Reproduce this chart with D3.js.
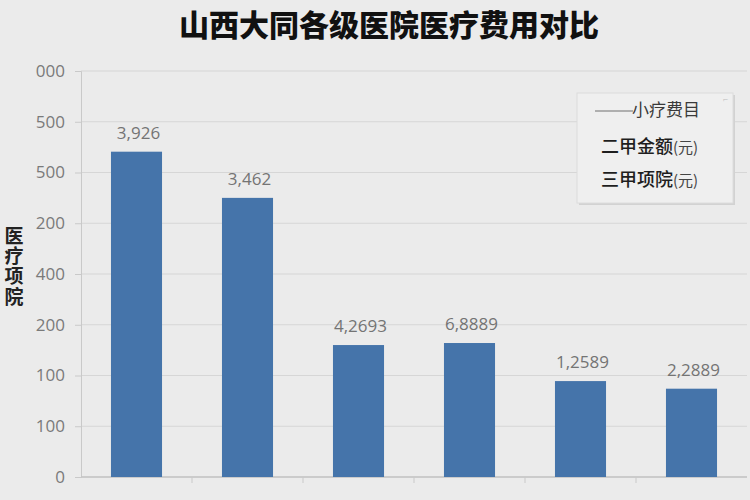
<!DOCTYPE html>
<html>
<head>
<meta charset="utf-8">
<script src="https://cdn.jsdelivr.net/npm/d3@7"></script>
<style>
  body { margin: 0; background: #ebebeb; }
  svg { display: block; }
</style>
</head>
<body>
<div id="chart"></div>
<script>
// chart data
const hospitals = ["h1", "h2", "h3", "h4", "h5", "h6"]
const costValues = [641, 550, 260, 264, 189, 174]
const valueLabels = ["3,926", "3,462", "4,2693", "6,8889", "1,2589", "2,2889"]
const yTicks = [0, 100, 200, 300, 400, 500, 600, 700, 800]
const yTickLabels = ["0", "100", "100", "200", "400", "200", "500", "500", "000"]
const legendItems = ["二甲金额", "三甲项院"]

;(function () {
    const margin = { top: 71, right: 3, bottom: 23, left: 81 }
    const width = 750 - margin.left - margin.right,
    height = 500 - margin.top - margin.bottom;

    const svg = d3.select("#chart")
      .append("svg")
      .attr("width", 750)
      .attr("height", 500)

    svg.append("rect").attr("width", 750).attr("height", 500).attr("fill", "#ebebeb")

    // title
    svg.append("text")
      .attr("x", 389)
      .attr("y", 36)
      .attr("text-anchor", "middle")
      .attr("font-family", "'Noto Sans CJK SC', sans-serif")
      .attr("font-weight", 900)
      .attr("font-size", "30px")
      .attr("fill", "#111")
      .text("山西大同各级医院医疗费用对比")

    const g = svg.append("g")
      .attr("transform", "translate(" + margin.left + "," + margin.top + ")")

    const x = d3.scaleBand().domain(hospitals).range([0, width])
      .paddingInner(0.54).paddingOuter(0.27)
    const y = d3.scaleLinear().domain([0, 800]).range([height, 0])

    // grid
    g.selectAll(".grid")
      .data(yTicks)
      .enter().append("line")
      .attr("x1", 0).attr("x2", width)
      .attr("y1", d => y(d)).attr("y2", d => y(d))
      .attr("stroke", "#d6d6d6")
      .attr("stroke-width", 1.2)

    // y axis
    const yAxis = g.append("g")
      .call(d3.axisLeft(y).tickValues(yTicks).tickSize(6).tickPadding(10)
        .tickFormat((d, i) => yTickLabels[i]))
    yAxis.select(".domain").attr("stroke", "#c9c9c9")
    yAxis.selectAll(".tick line").attr("stroke", "#c9c9c9")
    yAxis.selectAll("text")
      .attr("font-family", "'Open Sans', sans-serif")
      .attr("font-size", "17px")
      .attr("fill", "#7a7a7a")

    // x axis baseline with ticks between bars
    g.append("line")
      .attr("x1", 0).attr("x2", width)
      .attr("y1", height).attr("y2", height)
      .attr("stroke", "#c4c4c4").attr("stroke-width", 1.5)
    g.selectAll(".xtick")
      .data(hospitals.slice(1))
      .enter().append("line")
      .attr("x1", d => x(d) - x.step() * x.paddingInner() / 2)
      .attr("x2", d => x(d) - x.step() * x.paddingInner() / 2)
      .attr("y1", height).attr("y2", height + 6)
      .attr("stroke", "#c9c9c9")

    // bars
    g.selectAll(".bar")
      .data(costValues)
      .enter().append("rect")
      .attr("class", "bar")
      .attr("x", (d, i) => x(hospitals[i]))
      .attr("y", d => y(d))
      .attr("width", x.bandwidth())
      .attr("height", d => height - y(d))
      .attr("fill", "#4574aa")

    g.selectAll(".val")
      .data(costValues)
      .enter().append("text")
      .attr("class", "val")
      .attr("x", (d, i) => x(hospitals[i]) + x.bandwidth() / 2 + 2)
      .attr("y", d => y(d) - 13)
      .attr("text-anchor", "middle")
      .attr("font-family", "'Open Sans', sans-serif")
      .attr("font-size", "17px")
      .attr("fill", "#747474")
      .text((d, i) => valueLabels[i])

    // y title, written vertically
    svg.append("text")
      .attr("x", 14)
      .attr("y", 226)
      .attr("writing-mode", "vertical-rl")
      .attr("letter-spacing", "1.3px")
      .attr("font-family", "'Noto Sans CJK SC', sans-serif")
      .attr("font-size", "19px")
      .attr("font-weight", 600)
      .attr("fill", "#222")
      .text("医疗项院")

    // legend
    const lg = svg.append("g").attr("transform", "translate(577,93)")
    lg.append("rect")
      .attr("x", 2).attr("y", 2)
      .attr("width", 156).attr("height", 110)
      .attr("fill", "#d2d2d2")
    lg.append("rect")
      .attr("width", 156).attr("height", 110)
      .attr("fill", "#efefef")
      .attr("stroke", "#dcdcdc")
    lg.append("line")
      .attr("x1", 18).attr("x2", 56)
      .attr("y1", 18).attr("y2", 18)
      .attr("stroke", "#9a9a9a").attr("stroke-width", 1.5)
    lg.append("text")
      .attr("x", 55).attr("y", 23)
      .attr("font-family", "'Noto Sans CJK SC', sans-serif")
      .attr("font-size", "17px")
      .attr("fill", "#3a3a3a")
      .text("小疗费目")
    lg.append("text")
      .attr("x", 146).attr("y", 9)
      .attr("font-size", "9px")
      .attr("fill", "#bbb")
      .text("⌐")
    const items = lg.selectAll(".item")
      .data(legendItems)
      .enter().append("text")
      .attr("x", 24)
      .attr("y", (d, i) => 60 + i * 33)
      .attr("font-family", "'Noto Sans CJK SC', sans-serif")
      .attr("fill", "#1e1e1e")
    items.append("tspan").attr("font-size", "18px").attr("font-weight", 500).text(d => d)
    items.append("tspan").attr("font-size", "15px").attr("fill", "#444").text("(元)")
})()
</script>
</body>
</html>
